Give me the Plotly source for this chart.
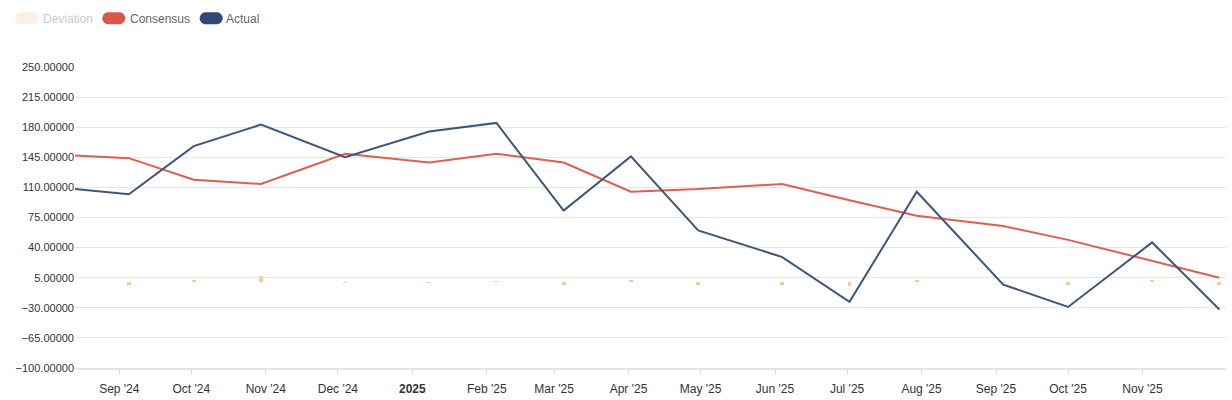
import plotly.graph_objects as go

# ---- data ----
release_dates = ["2024-07-31", "2024-09-05", "2024-10-02", "2024-10-30", "2024-12-04",
                 "2025-01-08", "2025-02-05", "2025-03-05", "2025-04-02", "2025-04-30",
                 "2025-06-04", "2025-07-02", "2025-07-30", "2025-09-04", "2025-10-01",
                 "2025-11-05", "2025-12-03"]
actual = [112, 102, 158, 183, 145, 175, 185, 83, 146, 60, 29, -23, 105, -3, -29, 46, -32]
consensus = [149, 144, 119, 114, 149, 139, 149, 139, 105, 108, 114, 95, 77, 65, 49, 25, 5]
deviation = [-2, -3, 2, 7, -1.5, -1.5, 1.5, -3, 2, -3, -3.5, -4.5, 2, -1, -3.5, 2, -3.5]

tick_dates = ["2024-09-01", "2024-10-01", "2024-11-01", "2024-12-01", "2025-01-01",
              "2025-02-01", "2025-03-01", "2025-04-01", "2025-05-01", "2025-06-01",
              "2025-07-01", "2025-08-01", "2025-09-01", "2025-10-01", "2025-11-01"]
tick_labels = ["Sep '24", "Oct '24", "Nov '24", "Dec '24", "<b>2025</b>",
               "Feb '25", "Mar '25", "Apr '25", "May '25", "Jun '25",
               "Jul '25", "Aug '25", "Sep '25", "Oct '25", "Nov '25"]
y_ticks = [-100, -65, -30, 5, 40, 75, 110, 145, 180, 215, 250]

series_names = ["Deviation", "Consensus", "Actual"]
legend_colors = ["#fcefe4", "#d9574a", "#2e4a72"]
legend_text_colors = ["#cccccc", "#666666", "#666666"]

FONT = "Liberation Sans, Arial, sans-serif"

fig = go.Figure()
fig.add_trace(go.Bar(x=release_dates, y=deviation, name="Deviation",
                     marker=dict(color="rgba(246,188,130,0.8)", line=dict(width=0)),
                     width=1.6 * 86400000, showlegend=False, hoverinfo="skip"))
fig.add_trace(go.Scatter(x=release_dates, y=consensus, name="Consensus", mode="lines",
                         line=dict(color="#dc5f50", width=2), showlegend=False))
fig.add_trace(go.Scatter(x=release_dates, y=actual, name="Actual", mode="lines",
                         line=dict(color="#3d5679", width=2), showlegend=False))

# plot area geometry in pixels (for legend placement)
L, R, T, B = 75, 6, 67, 32
W, H = 1232, 400
pw, ph = W - L - R, H - T - B

def px_to_paper(px, py):
    return (px - L) / pw, (H - B - py) / ph

pill = ("M -5.5,-6 L 5.5,-6 C 8.8,-6 11.5,-3.3 11.5,0 C 11.5,3.3 8.8,6 5.5,6 "
        "L -5.5,6 C -8.8,6 -11.5,3.3 -11.5,0 C -11.5,-3.3 -8.8,-6 -5.5,-6 Z")
pill_cx = [26.7, 113.8, 211.2]
text_x = [42, 128.5, 225.2]
shapes, annotations = [], []
for name, col, tcol, cx, tx in zip(series_names, legend_colors, legend_text_colors, pill_cx, text_x):
    ax, ay = px_to_paper(cx, 18.2)
    shapes.append(dict(type="path", xref="paper", yref="paper", xsizemode="pixel",
                       ysizemode="pixel", xanchor=ax, yanchor=ay, path=pill,
                       fillcolor=col, line=dict(width=0)))
    tx_p, ty_p = px_to_paper(tx, 19.3)
    annotations.append(dict(text=name, xref="paper", yref="paper", x=tx_p, y=ty_p,
                            xanchor="left", yanchor="middle", showarrow=False,
                            font=dict(family=FONT, size=12, color=tcol), borderpad=0))

fig.update_layout(
    width=W, height=H,
    margin=dict(l=L, r=R, t=T, b=B, autoexpand=False),
    paper_bgcolor="white", plot_bgcolor="white",
    showlegend=False, bargap=0,
    font=dict(family=FONT, size=11, color="#333333"),
    shapes=shapes, annotations=annotations,
    xaxis=dict(type="date", range=["2024-08-13 13:30", "2025-12-05 18:00"],
               tickvals=tick_dates, ticktext=tick_labels, automargin=False,
               showgrid=False, showline=True, linecolor="#e3e3e3", linewidth=2,
               ticks="outside", ticklen=5, tickcolor="#dddddd", tickwidth=1,
               tickfont=dict(family=FONT, size=12, color="#333333"),
               ticklabelstandoff=4, zeroline=False),
    yaxis=dict(range=[-100, 250], tickvals=y_ticks, tickformat=".5f", automargin=False,
               showgrid=True, gridcolor="#e6e6e6", gridwidth=1, zeroline=False,
               ticks="", tickfont=dict(family=FONT, size=11, color="#333333"),
               ticklabelstandoff=0),
)

fig.write_html("out.html", config={"displayModeBar": False},
               post_script="document.body.style.margin='0';")
